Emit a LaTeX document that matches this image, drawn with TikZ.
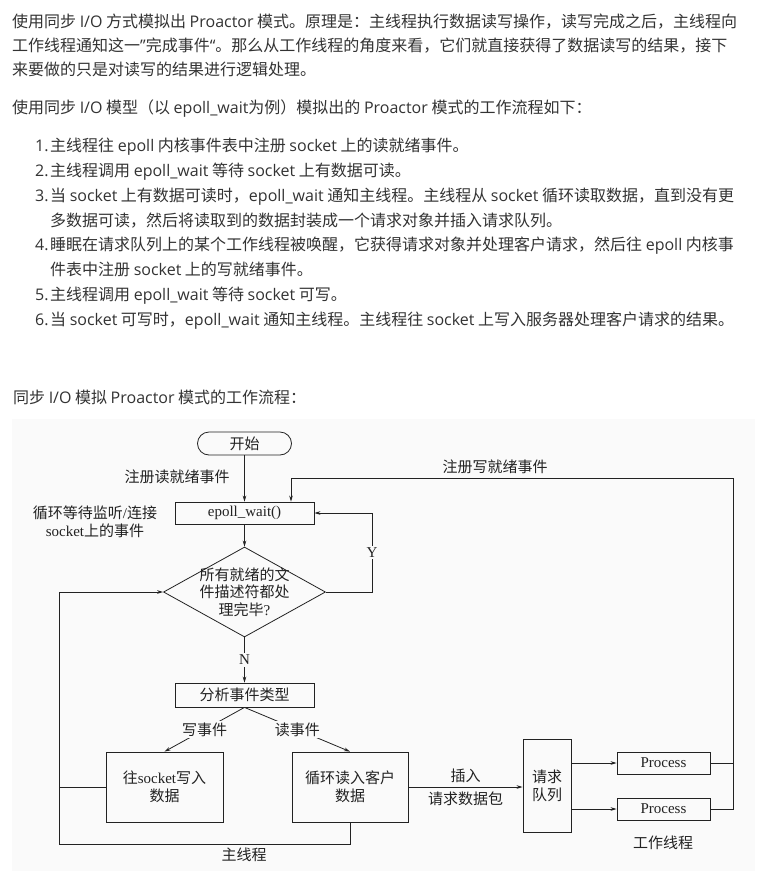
\documentclass[tikz,border=0pt]{standalone}
\usepackage{fontspec}
\setmainfont{Noto Sans CJK SC}
\newfontfamily\en{Open Sans}
\newfontfamily\tm{Liberation Serif}
\usetikzlibrary{shapes.geometric,arrows.meta}
\definecolor{bodytext}{HTML}{333333}
\definecolor{ink}{HTML}{222222}
\definecolor{panel}{HTML}{FAFAFA}
\begin{document}
\begin{tikzpicture}[x=1pt, y=-1pt, >={Stealth[length=6pt,width=3.6pt]},
  para/.style={anchor=base west, inner sep=0pt, text=bodytext, font=\fontsize{16}{20}\selectfont},
  flow/.style={text=ink, font=\fontsize{15}{18}\selectfont},
  box/.style={flow, draw=ink, line width=0.8pt, rectangle, inner sep=0pt, align=center},
  decision/.style={draw=ink, line width=0.8pt, diamond, inner sep=0pt, minimum width=162pt, minimum height=90pt},
  flag/.style={flow, fill=panel, inner sep=2pt},
  conn/.style={draw=ink, line width=0.8pt}]
  \useasboundingbox (0,0) rectangle (775,871);
  \fill[white] (0,0) rectangle (775,871);

  % text above the figure
  \node[para] (t1) at (12,27) {使用同步 {\en I/O} 方式模拟出 {\en Proactor} 模式。原理是：主线程执行数据读写操作，读写完成之后，主线程向};
  \node[para] (t2) at (12,51) {工作线程通知这一{\en ”}完成事件{\en “}。那么从工作线程的角度来看，它们就直接获得了数据读写的结果，接下};
  \node[para] (t3) at (12,75) {来要做的只是对读写的结果进行逻辑处理。};
  \node[para] (t4) at (12,113) {使用同步 {\en I/O} 模型（以 {\en epoll\_wait}为例）模拟出的 {\en Proactor} 模式的工作流程如下：};

  \node[para] (s1) at (35,151) {\makebox[15pt][l]{\en 1.}主线程往 {\en epoll} 内核事件表中注册 {\en socket} 上的读就绪事件。};
  \node[para] (s2) at (35,176) {\makebox[15pt][l]{\en 2.}主线程调用 {\en epoll\_wait} 等待 {\en socket} 上有数据可读。};
  \node[para] (s3) at (35,201) {\makebox[15pt][l]{\en 3.}当 {\en socket} 上有数据可读时，{\en epoll\_wait} 通知主线程。主线程从 {\en socket} 循环读取数据，直到没有更};
  \node[para] (s3b) at (50,226) {多数据可读，然后将读取到的数据封装成一个请求对象并插入请求队列。};
  \node[para] (s4) at (35,250) {\makebox[15pt][l]{\en 4.}睡眠在请求队列上的某个工作线程被唤醒，它获得请求对象并处理客户请求，然后往 {\en epoll} 内核事};
  \node[para] (s4b) at (50,275) {件表中注册 {\en socket} 上的写就绪事件。};
  \node[para] (s5) at (35,300) {\makebox[15pt][l]{\en 5.}主线程调用 {\en epoll\_wait} 等待 {\en socket} 可写。};
  \node[para] (s6) at (35,325) {\makebox[15pt][l]{\en 6.}当 {\en socket} 可写时，{\en epoll\_wait} 通知主线程。主线程往 {\en socket} 上写入服务器处理客户请求的结果。};

  \node[para] (cap) at (13,403) {同步 {\en I/O} 模拟 {\en Proactor} 模式的工作流程：};

  % flow chart
  \fill[panel] (12,419) rectangle (755,871);

  \node[box, rounded corners=11.5pt, minimum width=94pt, minimum height=23pt] (start) at (244.5,443.5) {开始};
  \node[box, minimum width=139pt, minimum height=22pt] (wait) at (244.5,513) {\tm epoll\_wait()};
  \node[decision] (check) at (244.5,592) {};
  \node[flow, align=center, inner sep=0pt, font=\fontsize{15}{17.5}\selectfont] (checktxt) at (check.center) {所有就绪的文\\件描述符都处\\理完毕{\tm ?}};
  \node[box, minimum width=139pt, minimum height=24pt] (analyse) at (244.5,695) {分析事件类型};
  \node[box, minimum width=117pt, minimum height=70pt] (writesock) at (164.5,787) {往{\tm socket}写入\\数据};
  \node[box, minimum width=116pt, minimum height=70pt] (readsock) at (350,787) {循环读入客户\\数据};
  \node[box, minimum width=48pt, minimum height=93pt] (queue) at (547,785.5) {请求\\队列};
  \node[box, minimum width=93pt, minimum height=22pt] (procA) at (663.5,763) {\tm Process};
  \node[box, minimum width=93pt, minimum height=22pt] (procB) at (663.5,809) {\tm Process};

  \node[flow] (regread) at (177,477) {注册读就绪事件};
  \node[flow, align=center] (listen) at (95,522) {循环等待监听{\tm /}连接\\{\tm socket}上的事件};
  \node[flow] (regwrite) at (495,467) {注册写就绪事件};
  \node[flow] (mainthr) at (244,855) {主线程};
  \node[flow] (workthr) at (663,843) {工作线程};

  \coordinate (yturn) at (372,592);
  \coordinate (loopTop) at (59,592);
  \coordinate (loopBot) at (59,844);
  \coordinate (rbot) at (733,809);
  \coordinate (rtop) at (733,478);
  \coordinate (wback) at (291,478);

  \draw[conn, ->] (start) -- (wait);
  \draw[conn, ->] (wait) -- (check);
  \draw[conn, ->] (check) -- node[flag, font=\tm\fontsize{15}{18}\selectfont] {N} (analyse);
  \draw[conn, ->] (check.east) -- (yturn) -- node[flag, font=\tm\fontsize{15}{18}\selectfont] {Y} (yturn |- wait.east) -- (wait.east);
  \draw[conn, ->] (analyse.south) -- node[flag] {写事件} (writesock.north);
  \draw[conn, ->] (analyse.south) -- node[flag] {读事件} (readsock.north);
  \draw[conn] (writesock.west) -- (writesock.west -| loopBot);
  \draw[conn, ->] (readsock.south) -- (readsock.south |- loopBot) -- (loopBot) -- (loopTop) -- (check.west);
  \draw[conn, ->] (readsock.east) -- node[flow, above=1pt] {插入} node[flow, below=1pt] {请求数据包} (queue.west |- readsock.east);
  \draw[conn, ->] (queue.east |- procA.west) -- (procA.west);
  \draw[conn, ->] (queue.east |- procB.west) -- (procB.west);
  \draw[conn] (procA.east) -- (procA.east -| rbot);
  \draw[conn, ->] (procB.east) -- (rbot) -- (rtop) -- (wback) -- (wback |- wait.north);
\end{tikzpicture}
\end{document}
